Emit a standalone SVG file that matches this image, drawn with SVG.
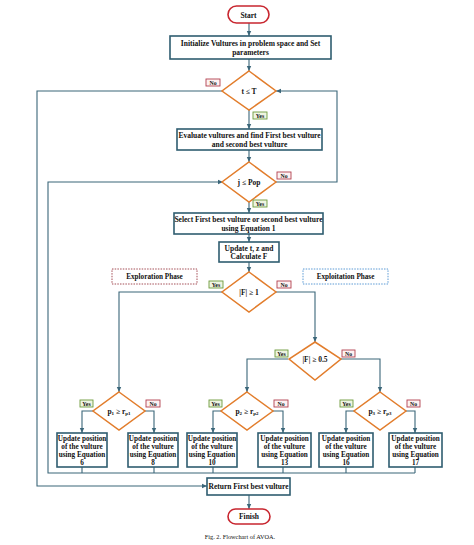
<svg xmlns="http://www.w3.org/2000/svg" width="474" height="545" viewBox="0 0 474 545">
<style>
text{font-family:"Liberation Serif","Times New Roman",serif;font-weight:bold;fill:#111;text-anchor:middle}
.box{fill:#fff;stroke:#2f5d70;stroke-width:1.6}
.dia{fill:#fff;stroke:#e27d2c;stroke-width:1.5}
.term{fill:#fff;stroke:#c8262f;stroke-width:1.6}
.c{fill:none;stroke:#3b6679;stroke-width:1.1}
.t{font-size:7.5px}
.s{font-size:7.2px}
.yes rect{fill:#eef4e2;stroke:#6e9b3c;stroke-width:0.9}
.no rect{fill:#fdf2f2;stroke:#b2404f;stroke-width:0.9}
.lab{font-size:5.8px}
.ph{fill:#fff;stroke-width:0.9;stroke-dasharray:1.5 1.2}
.cap{font-size:6.3px;font-weight:normal}
</style>
<defs>
<marker id="a" markerWidth="6" markerHeight="6" refX="5" refY="3" orient="auto" markerUnits="userSpaceOnUse">
<path d="M0,0.8 L5,3 L0,5.2 Z" fill="#3b6679"/>
</marker>
</defs>
<g id="connectors">
<path class="c" d="M249,23 V36" marker-end="url(#a)"/>
<path class="c" d="M249,59 V71" marker-end="url(#a)"/>
<path class="c" d="M249,110 V129" marker-end="url(#a)"/>
<path class="c" d="M249,150 V162" marker-end="url(#a)"/>
<path class="c" d="M249,202 V213" marker-end="url(#a)"/>
<path class="c" d="M249,234 V242" marker-end="url(#a)"/>
<path class="c" d="M249,262 V272" marker-end="url(#a)"/>
<path class="c" d="M223,91 H37 V486 H207" marker-end="url(#a)"/>
<path class="c" d="M276,182 H337 V91 H276" marker-end="url(#a)"/>
<path class="c" d="M415,473 H48 V182 H223" marker-end="url(#a)"/>
<path class="c" d="M82,467 V473 M154,467 V473 M213,467 V473 M283,467 V473 M346,467 V473 M415,467 V473"/>
<path class="c" d="M223,292 H119 V392" marker-end="url(#a)"/>
<path class="c" d="M276,292 H315 V342" marker-end="url(#a)"/>
<path class="c" d="M288,359 H247 V392" marker-end="url(#a)"/>
<path class="c" d="M341,359 H380 V392" marker-end="url(#a)"/>
<path class="c" d="M93,411 H82 V433" marker-end="url(#a)"/>
<path class="c" d="M145,411 H154 V433" marker-end="url(#a)"/>
<path class="c" d="M221,411 H213 V433" marker-end="url(#a)"/>
<path class="c" d="M273,411 H283 V433" marker-end="url(#a)"/>
<path class="c" d="M354,411 H346 V433" marker-end="url(#a)"/>
<path class="c" d="M406,411 H415 V433" marker-end="url(#a)"/>
<path class="c" d="M249,495 V509" marker-end="url(#a)"/>
</g>
<g id="start"><rect class="term" x="228" y="6" width="41" height="17" rx="8.5"/><text class="t" x="248.5" y="17.5">Start</text></g>
<g id="init"><rect class="box" x="170" y="36" width="161" height="23"/><text class="t" x="250.5" y="46">Initialize Vultures in problem space and Set</text><text class="t" x="250.5" y="55">parameters</text></g>
<g id="cond-t"><polygon class="dia" points="249,71 276,91 249,110 222,91"/><text class="t" x="249" y="93.5">t ≤  T</text></g>
<g id="evaluate"><rect class="box" x="177" y="129" width="145" height="21"/><text class="t" x="249.5" y="138">Evaluate vultures and find First best vulture</text><text class="t" x="249.5" y="147">and second best vulture</text></g>
<g id="cond-j"><polygon class="dia" points="249,162 276,182 249,202 222,182"/><text class="t" x="249" y="184.5">j ≤ Pop</text></g>
<g id="select"><rect class="box" x="174" y="213" width="149" height="21"/><text class="t" x="248.5" y="222">Select First best vulture or second best vulture</text><text class="t" x="248.5" y="231">using Equation 1</text></g>
<g id="update-t"><rect class="box" x="219" y="242" width="60" height="20"/><text class="t" x="249" y="250.5">Update t, z and</text><text class="t" x="249" y="259">Calculate F</text></g>
<g id="exploration"><rect class="ph" x="112" y="269" width="85" height="15" stroke="#9a3a44"/><text class="s" x="154.5" y="279">Exploration Phase</text></g>
<g id="exploitation"><rect class="ph" x="303" y="269" width="85" height="15" stroke="#4a8fd0"/><text class="s" x="345.5" y="279">Exploitation Phase</text></g>
<g id="cond-f1"><polygon class="dia" points="249,272 276,292 249,312 222,292"/><text class="t" x="249" y="294.5">|F| ≥ 1</text></g>
<g id="cond-f05"><polygon class="dia" points="315,342 341,359 315,380 289,359"/><text class="t" x="315" y="361.5">|F| ≥ 0.5</text></g>
<g id="cond-p1"><polygon class="dia" points="119,392 145,411 119,430 93,411"/><text class="t" x="119" y="413.5">p<tspan font-size="5" dy="1.5">1</tspan><tspan dy="-1.5"> ≥ r</tspan><tspan font-size="5" dy="1.5">p1</tspan></text></g>
<g id="cond-p2"><polygon class="dia" points="247,392 273,411 247,430 221,411"/><text class="t" x="247" y="413.5">p<tspan font-size="5" dy="1.5">2</tspan><tspan dy="-1.5"> ≥ r</tspan><tspan font-size="5" dy="1.5">p2</tspan></text></g>
<g id="cond-p3"><polygon class="dia" points="380,392 406,411 380,430 354,411"/><text class="t" x="380" y="413.5">p<tspan font-size="5" dy="1.5">3</tspan><tspan dy="-1.5"> ≥ r</tspan><tspan font-size="5" dy="1.5">p3</tspan></text></g>
<g id="eq6"><rect class="box" x="57" y="433" width="50" height="34"/><text class="s" x="82" y="441">Update position</text><text class="s" x="82" y="449">of the vulture</text><text class="s" x="82" y="457">using Equation</text><text class="s" x="82" y="465">6</text></g>
<g id="eq8"><rect class="box" x="128" y="433" width="50" height="34"/><text class="s" x="153" y="441">Update position</text><text class="s" x="153" y="449">of the vulture</text><text class="s" x="153" y="457">using Equation</text><text class="s" x="153" y="465">8</text></g>
<g id="eq10"><rect class="box" x="187" y="433" width="50" height="34"/><text class="s" x="212" y="441">Update position</text><text class="s" x="212" y="449">of the vulture</text><text class="s" x="212" y="457">using Equation</text><text class="s" x="212" y="465">10</text></g>
<g id="eq13"><rect class="box" x="258" y="433" width="53" height="34"/><text class="s" x="284.5" y="441">Update position</text><text class="s" x="284.5" y="449">of the vulture</text><text class="s" x="284.5" y="457">using Equation</text><text class="s" x="284.5" y="465">13</text></g>
<g id="eq16"><rect class="box" x="319" y="433" width="54" height="34"/><text class="s" x="346" y="441">Update position</text><text class="s" x="346" y="449">of the vulture</text><text class="s" x="346" y="457">using Equation</text><text class="s" x="346" y="465">16</text></g>
<g id="eq17"><rect class="box" x="389" y="433" width="53" height="34"/><text class="s" x="415.5" y="441">Update position</text><text class="s" x="415.5" y="449">of the vulture</text><text class="s" x="415.5" y="457">using Equation</text><text class="s" x="415.5" y="465">17</text></g>
<g id="return"><rect class="box" x="207" y="478" width="83" height="17"/><text class="t" x="248.5" y="489">Return First best vulture</text></g>
<g id="finish"><rect class="term" x="228" y="509" width="42" height="15" rx="7.5"/><text class="t" x="249" y="519">Finish</text></g>
<g id="labels">
<g class="no"><rect x="206" y="79" width="14" height="7"/><text class="lab" x="213" y="84.6">No</text></g>
<g class="yes"><rect x="253" y="112" width="14" height="7"/><text class="lab" x="260" y="117.6">Yes</text></g>
<g class="no"><rect x="277" y="172" width="14" height="7"/><text class="lab" x="284" y="177.6">No</text></g>
<g class="yes"><rect x="253" y="200" width="14" height="7"/><text class="lab" x="260" y="205.6">Yes</text></g>
<g class="yes"><rect x="209" y="281" width="14" height="7"/><text class="lab" x="216" y="286.6">Yes</text></g>
<g class="no"><rect x="277" y="281" width="14" height="7"/><text class="lab" x="284" y="286.6">No</text></g>
<g class="yes"><rect x="275" y="350" width="13" height="7"/><text class="lab" x="281.5" y="355.6">Yes</text></g>
<g class="no"><rect x="342" y="350" width="13" height="7"/><text class="lab" x="348.5" y="355.6">No</text></g>
<g class="yes"><rect x="80" y="400" width="13" height="7"/><text class="lab" x="86.5" y="405.6">Yes</text></g>
<g class="no"><rect x="146" y="400" width="14" height="7"/><text class="lab" x="153" y="405.6">No</text></g>
<g class="yes"><rect x="209" y="400" width="13" height="7"/><text class="lab" x="215.5" y="405.6">Yes</text></g>
<g class="no"><rect x="274" y="400" width="14" height="7"/><text class="lab" x="281" y="405.6">No</text></g>
<g class="yes"><rect x="340" y="400" width="13" height="7"/><text class="lab" x="346.5" y="405.6">Yes</text></g>
<g class="no"><rect x="407" y="400" width="13" height="7"/><text class="lab" x="413.5" y="405.6">No</text></g>
</g>
<text class="cap" x="240" y="539">Fig. 2.  Flowchart of AVOA.</text>
</svg>
